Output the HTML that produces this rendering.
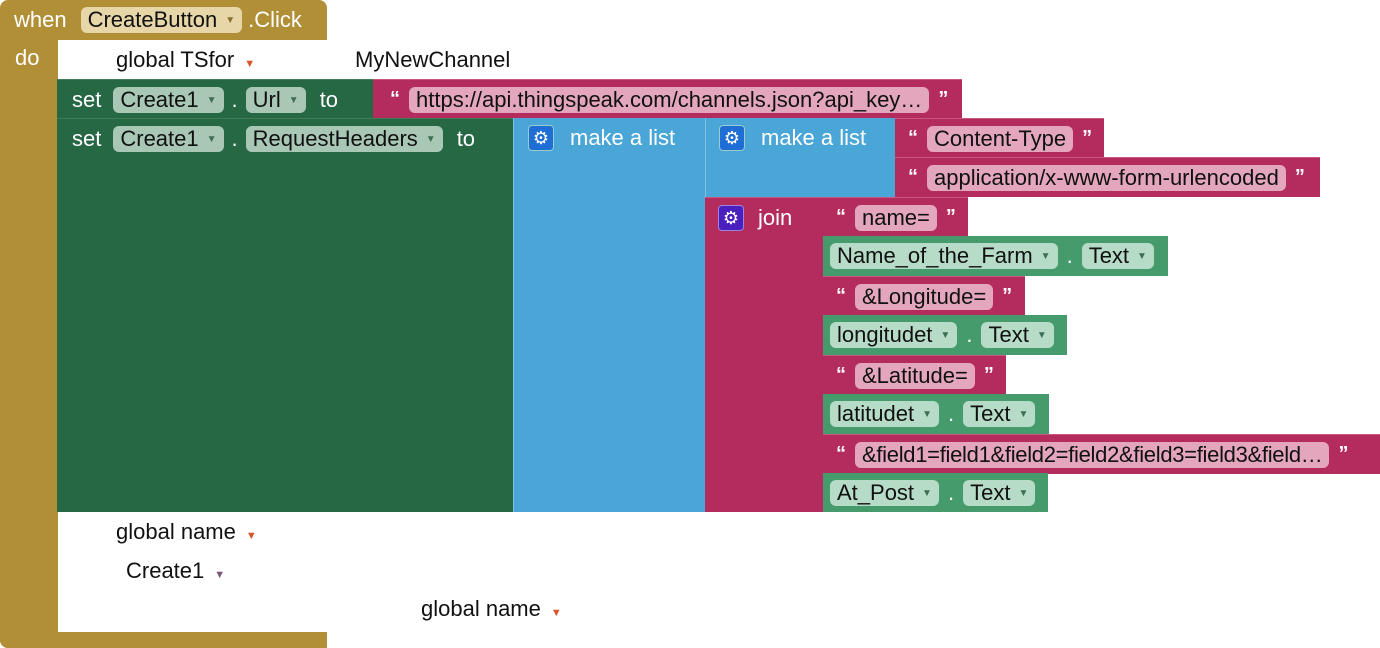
<!DOCTYPE html>
<html><head><meta charset="utf-8"><style>
body{margin:0;width:1380px;height:648px;background:#fff;position:relative;overflow:hidden;font-family:"Liberation Sans",sans-serif;font-size:22px}
.b{position:absolute;box-sizing:border-box;display:flex;align-items:flex-start;white-space:nowrap}
.row{display:flex;align-items:center;height:39px}
.g{background:#b18f37;color:#fff}
.dg{background:#266744;color:#fff;border-top:1px solid #3d7d58}
.bl{background:#4aa6d6;color:#fff}
.m{background:#b32c5d;color:#fff;border-top:1px solid #c9567f}
.tg{background:#469b6c;color:#fff}
.p{display:inline-block;height:26px;line-height:26px;border-radius:6px;padding:0 7px;color:#111}
.pg{background:#a8c7b5}.pp{background:#e4a6bc}.pt{background:#b6dcc7}.pc{background:#e6d6a8}
.ar{font-size:10px;color:#fff;margin-left:8px;vertical-align:middle}
.pg .ar,.pt .ar{color:#3d6e53}.pc .ar{color:#8a7030}
.q{margin:0 9px;font-size:20px;font-weight:bold}
.gear{display:inline-block;width:26px;height:26px;background:#4b1ec0;border-radius:4px;border:1px solid #9a86e0;color:#fff;font-size:18px;line-height:25px;text-align:center;box-sizing:border-box}
.t{position:absolute;color:#111;white-space:nowrap}
.o{color:#d8562c;font-size:11px;margin-left:10px}
</style></head><body>
<div class="b g" style="left:0;top:0;width:327px;height:40px;border-radius:8px 8px 0 0"><div class="row" style="padding-left:14px">when<span class="p pc" style="margin:0 6px 0 14px">CreateButton<span class="ar">▼</span></span>.Click</div></div>
<div class="b g" style="left:0;top:38px;width:58px;height:610px;border-radius:0 0 0 8px"><div style="padding:7px 0 0 15px">do</div></div>
<div class="b g" style="left:0;top:632px;width:327px;height:16px;border-radius:0 0 0 8px"></div>
<div style="position:absolute;left:58px;top:40px;width:20px;height:20px;background:#fff;border-radius:10px 0 0 0"></div>
<div style="position:absolute;left:58px;top:612px;width:20px;height:20px;background:#fff;border-radius:0 0 0 10px"></div>
<div class="t" style="left:116px;top:47px">global TSfor<span class="o">▼</span></div>
<div class="t" style="left:355px;top:47px">MyNewChannel</div>
<div class="b dg" style="left:57px;top:79px;width:317px;height:40px"><div class="row" style="padding-left:15px">set<span class="p pg" style="margin:0 8px 0 12px">Create1<span class="ar">▼</span></span>.<span class="p pg" style="margin:0 14px 0 8px">Url<span class="ar">▼</span></span>to</div></div>
<div class="b m" style="left:373px;top:79px;width:589px;height:40px"><div class="row" style="padding-left:8px"><span class="q">“</span><span class="p pp">https://api.thingspeak.com/channels.json?api_key…</span><span class="q">”</span></div></div>
<div class="b dg" style="left:57px;top:118px;width:456px;height:394px"><div class="row" style="padding-left:15px">set<span class="p pg" style="margin:0 8px 0 12px">Create1<span class="ar">▼</span></span>.<span class="p pg" style="margin:0 14px 0 8px">RequestHeaders<span class="ar">▼</span></span>to</div></div>
<div class="b bl" style="left:513px;top:118px;width:192px;height:394px;border-left:1px solid #7cc0e4"><div class="row" style="padding-left:14px"><span class="gear" style="background:#1f6ed6;border-color:#9cc">⚙</span><span style="margin-left:16px">make a list</span></div></div>
<div class="b bl" style="left:705px;top:118px;width:191px;height:79px;border-left:1px solid #7cc0e4"><div class="row" style="padding-left:13px"><span class="gear" style="background:#1f6ed6;border-color:#9cc">⚙</span><span style="margin-left:16px">make a list</span></div></div>
<div class="b m" style="left:895px;top:118px;width:209px;height:40px"><div class="row" style="padding-left:4px"><span class="q">“</span><span class="p pp">Content-Type</span><span class="q">”</span></div></div>
<div class="b m" style="left:895px;top:157px;width:425px;height:40px"><div class="row" style="padding-left:4px"><span class="q">“</span><span class="p pp">application/x-www-form-urlencoded</span><span class="q">”</span></div></div>
<div class="b m" style="left:705px;top:197px;width:119px;height:315px"><div class="row" style="padding-left:13px"><span class="gear">⚙</span><span style="margin-left:14px">join</span></div></div>
<div class="b m" style="left:823px;top:197px;width:145px;height:40px"><div class="row" style="padding-left:4px"><span class="q">“</span><span class="p pp">name=</span><span class="q">”</span></div></div>
<div class="b tg" style="left:823px;top:236px;width:345px;height:40px"><div class="row" style="padding-left:7px"><span class="p pt">Name_of_the_Farm<span class="ar">▼</span></span><span style="margin:0 9px">.</span><span class="p pt">Text<span class="ar">▼</span></span></div></div>
<div class="b m" style="left:823px;top:276px;width:202px;height:40px"><div class="row" style="padding-left:4px"><span class="q">“</span><span class="p pp">&amp;Longitude=</span><span class="q">”</span></div></div>
<div class="b tg" style="left:823px;top:315px;width:244px;height:40px"><div class="row" style="padding-left:7px"><span class="p pt">longitudet<span class="ar">▼</span></span><span style="margin:0 9px">.</span><span class="p pt">Text<span class="ar">▼</span></span></div></div>
<div class="b m" style="left:823px;top:355px;width:183px;height:40px"><div class="row" style="padding-left:4px"><span class="q">“</span><span class="p pp">&amp;Latitude=</span><span class="q">”</span></div></div>
<div class="b tg" style="left:823px;top:394px;width:226px;height:40px"><div class="row" style="padding-left:7px"><span class="p pt">latitudet<span class="ar">▼</span></span><span style="margin:0 9px">.</span><span class="p pt">Text<span class="ar">▼</span></span></div></div>
<div class="b m" style="left:823px;top:434px;width:557px;height:40px"><div class="row" style="padding-left:4px"><span class="q">“</span><span class="p pp" style="letter-spacing:-0.3px">&amp;field1=field1&amp;field2=field2&amp;field3=field3&amp;field…</span><span class="q">”</span></div></div>
<div class="b tg" style="left:823px;top:473px;width:225px;height:39px"><div class="row" style="padding-left:7px"><span class="p pt">At_Post<span class="ar">▼</span></span><span style="margin:0 9px">.</span><span class="p pt">Text<span class="ar">▼</span></span></div></div>
<div class="t" style="left:116px;top:519px">global name<span class="o">▼</span></div>
<div class="t" style="left:126px;top:558px">Create1<span class="o" style="color:#7a5a78">▼</span></div>
<div class="t" style="left:421px;top:596px">global name<span class="o">▼</span></div>
</body></html>
